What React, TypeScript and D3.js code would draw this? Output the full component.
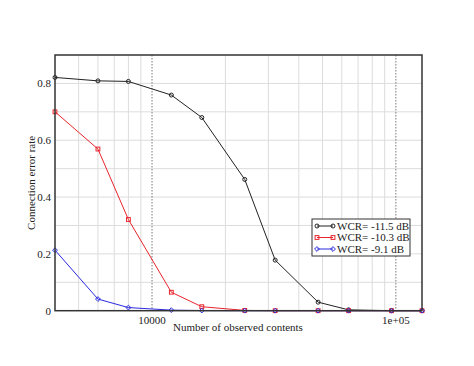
import React from "react";
import * as d3 from "d3";

const xValues = [4000, 6000, 8000, 12000, 16000, 24000, 32000, 48000, 64000, 96000, 128000];
const seriesBlack = [0.821, 0.809, 0.807, 0.759, 0.68, 0.462, 0.178, 0.03, 0.003, 0, 0];
const seriesRed = [0.7, 0.569, 0.321, 0.065, 0.014, 0.001, 0, 0, 0, 0, 0];
const seriesBlue = [0.213, 0.041, 0.011, 0.002, 0.0005, 0, 0, 0, 0, 0, 0];
const seriesNames = ["WCR= -11.5 dB", "WCR= -10.3 dB", "WCR= -9.1 dB"];
const yTicks = [0, 0.2, 0.4, 0.6, 0.8];
const xTickValues = [10000, 100000];
const xTickLabels = ["10000", "1e+05"];
const xMinorGrid = [5000, 6000, 7000, 8000, 9000, 20000, 30000, 40000, 50000, 60000, 70000, 80000, 90000];
const yGrid = [0.1, 0.2, 0.3, 0.4, 0.5, 0.6, 0.7, 0.8];

const W = 474, H = 366;
const L = 55, R = 422, T = 55, B = 310.7;

export default function App() {
  const x = d3.scaleLog().domain([4000, 128000]).range([L, R]);
  const y = d3.scaleLinear().domain([0, 0.9]).range([B, T]);
  const line = d3.line<number>().x((_, i) => x(xValues[i])).y((v) => y(v));
  const font = "'Liberation Serif', 'DejaVu Serif', serif";
  const series = [
    { data: seriesBlack, color: "#222", marker: "circle" },
    { data: seriesRed, color: "#e8242c", marker: "square" },
    { data: seriesBlue, color: "#2a2ae0", marker: "diamond" },
  ];
  const marker = (m: string, cx: number, cy: number, color: string, key: string) => {
    if (m === "circle") return <circle key={key} cx={cx} cy={cy} r={2} fill="none" stroke={color} strokeWidth={1} />;
    if (m === "square") return <rect key={key} x={cx - 1.9} y={cy - 1.9} width={3.8} height={3.8} fill="none" stroke={color} strokeWidth={1} />;
    return <path key={key} d={`M${cx},${cy - 2.4}L${cx + 2.4},${cy}L${cx},${cy + 2.4}L${cx - 2.4},${cy}Z`} fill="none" stroke={color} strokeWidth={1} />;
  };
  const legX = 312, legY = 219, legW = 98, legH = 37;
  return (
    <svg width={W} height={H} style={{ position: "absolute", left: 0, top: 0, background: "#fff" }} fontFamily={font}>
      <rect x={0} y={0} width={W} height={H} fill="#fff" />
      {xMinorGrid.map((v) => (
        <line key={"gx" + v} x1={x(v)} x2={x(v)} y1={T} y2={B} stroke="#dcdcdc" strokeWidth={1} />
      ))}
      {yGrid.map((v) => (
        <line key={"gy" + v} x1={L} x2={R} y1={y(v)} y2={y(v)} stroke="#dcdcdc" strokeWidth={1} />
      ))}
      {xTickValues.map((v) => (
        <line key={"gd" + v} x1={x(v)} x2={x(v)} y1={T} y2={B} stroke="#777" strokeWidth={1} strokeDasharray="1.5,1.5" />
      ))}
      {series.map((s, si) => (
        <g key={"s" + si}>
          <path d={line(s.data) || ""} fill="none" stroke={s.color} strokeWidth={1} />
          {s.data.map((v, i) => marker(s.marker, x(xValues[i]), y(v), s.color, "m" + si + "-" + i))}
        </g>
      ))}
      <rect x={L} y={T} width={R - L} height={B - T} fill="none" stroke="#333" strokeWidth={1.5} />
      {yTicks.map((v) => (
        <text key={"yt" + v} x={L - 4} y={y(v)} dy="0.35em" textAnchor="end" fontSize={11} fill="#222">
          {v === 0 ? "0" : String(v)}
        </text>
      ))}
      {xTickValues.map((v, i) => (
        <text key={"xt" + v} x={x(v)} y={B + 13} textAnchor="middle" fontSize={11} fill="#222">
          {xTickLabels[i]}
        </text>
      ))}
      <text x={238} y={331} textAnchor="middle" fontSize={11} fill="#222">Number of observed contents</text>
      <text transform={`translate(35,${(T + B) / 2}) rotate(-90)`} textAnchor="middle" fontSize={11} fill="#222">Connection error rate</text>
      <rect x={legX} y={legY} width={legW} height={legH} fill="#fff" stroke="#333" strokeWidth={1} />
      {series.map((s, i) => {
        const ly = legY + 7 + i * 11.5;
        return (
          <g key={"lg" + i}>
            <line x1={legX + 5} x2={legX + 21} y1={ly} y2={ly} stroke={s.color} strokeWidth={1} />
            {marker(s.marker, legX + 5, ly, s.color, "la" + i)}
            {marker(s.marker, legX + 21, ly, s.color, "lb" + i)}
            <text x={legX + 25} y={ly} dy="0.35em" fontSize={11} fill="#222">{seriesNames[i]}</text>
          </g>
        );
      })}
    </svg>
  );
}
